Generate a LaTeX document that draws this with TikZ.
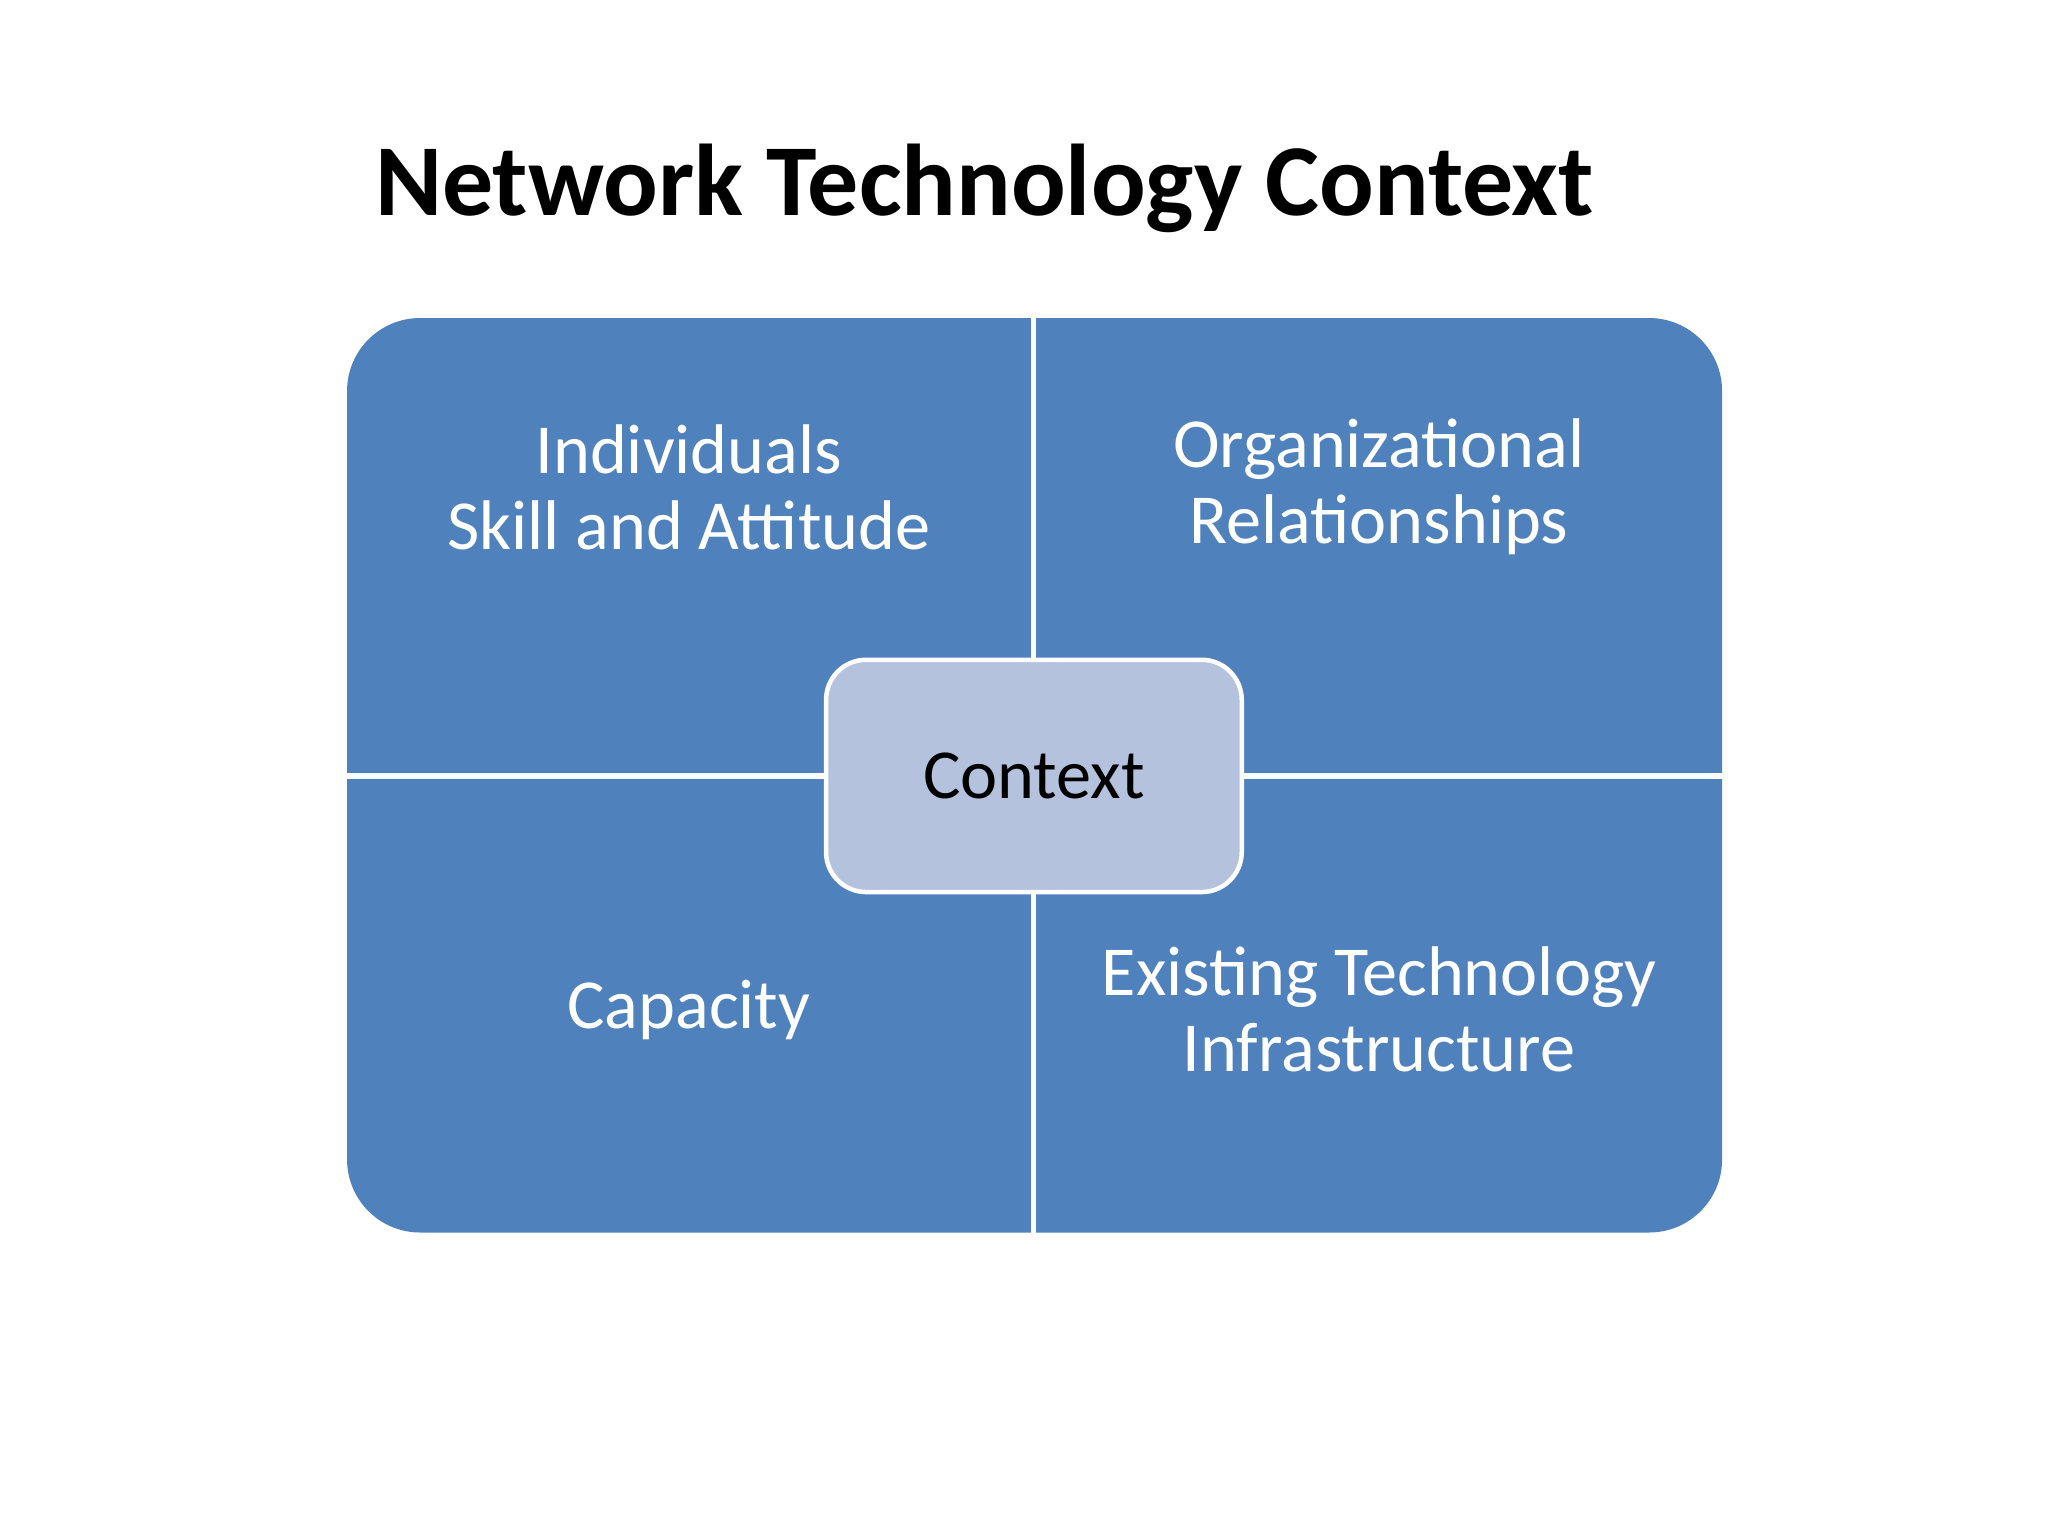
\documentclass[tikz,border=0pt]{standalone}
\usepackage{fontspec}
\setmainfont{Carlito}
\begin{document}
\begin{tikzpicture}[x=0.0132cm,y=-0.0132cm,
  quad/.style={text=white,align=center,font=\fontsize{20}{21.6}\selectfont},
  gap/.style={draw=white,line width=0.055cm}]
\useasboundingbox (0,0) rectangle (1552,1164);
\fill[fill={rgb,255:red,79;green,129;blue,189},rounded corners=0.73cm] (263,241) rectangle (1305,934);
\draw[gap] (783,236) -- (783,939);
\draw[gap] (258,588) -- (1310,588);
\node[font=\bfseries\fontsize{29}{34}\selectfont] (title) at (746,143) {Network Technology Context};
\node[quad] (tl) at (522,369) {Individuals\\Skill and Attitude};
\node[quad] (tr) at (1045,369) {Organizational\\Relationships};
\node[quad] (bl) at (522,765) {Capacity};
\node[quad] (br) at (1045,765) {Existing Technology\\Infrastructure};
\node[draw=white,line width=0.045cm,fill={rgb,255:red,180;green,194;blue,222},rounded corners=0.4cm,
  minimum width=315*0.0132cm,minimum height=176*0.0132cm,font=\fontsize{20}{24}\selectfont] (ctx) at (783.5,588) {Context};
\end{tikzpicture}
\end{document}
